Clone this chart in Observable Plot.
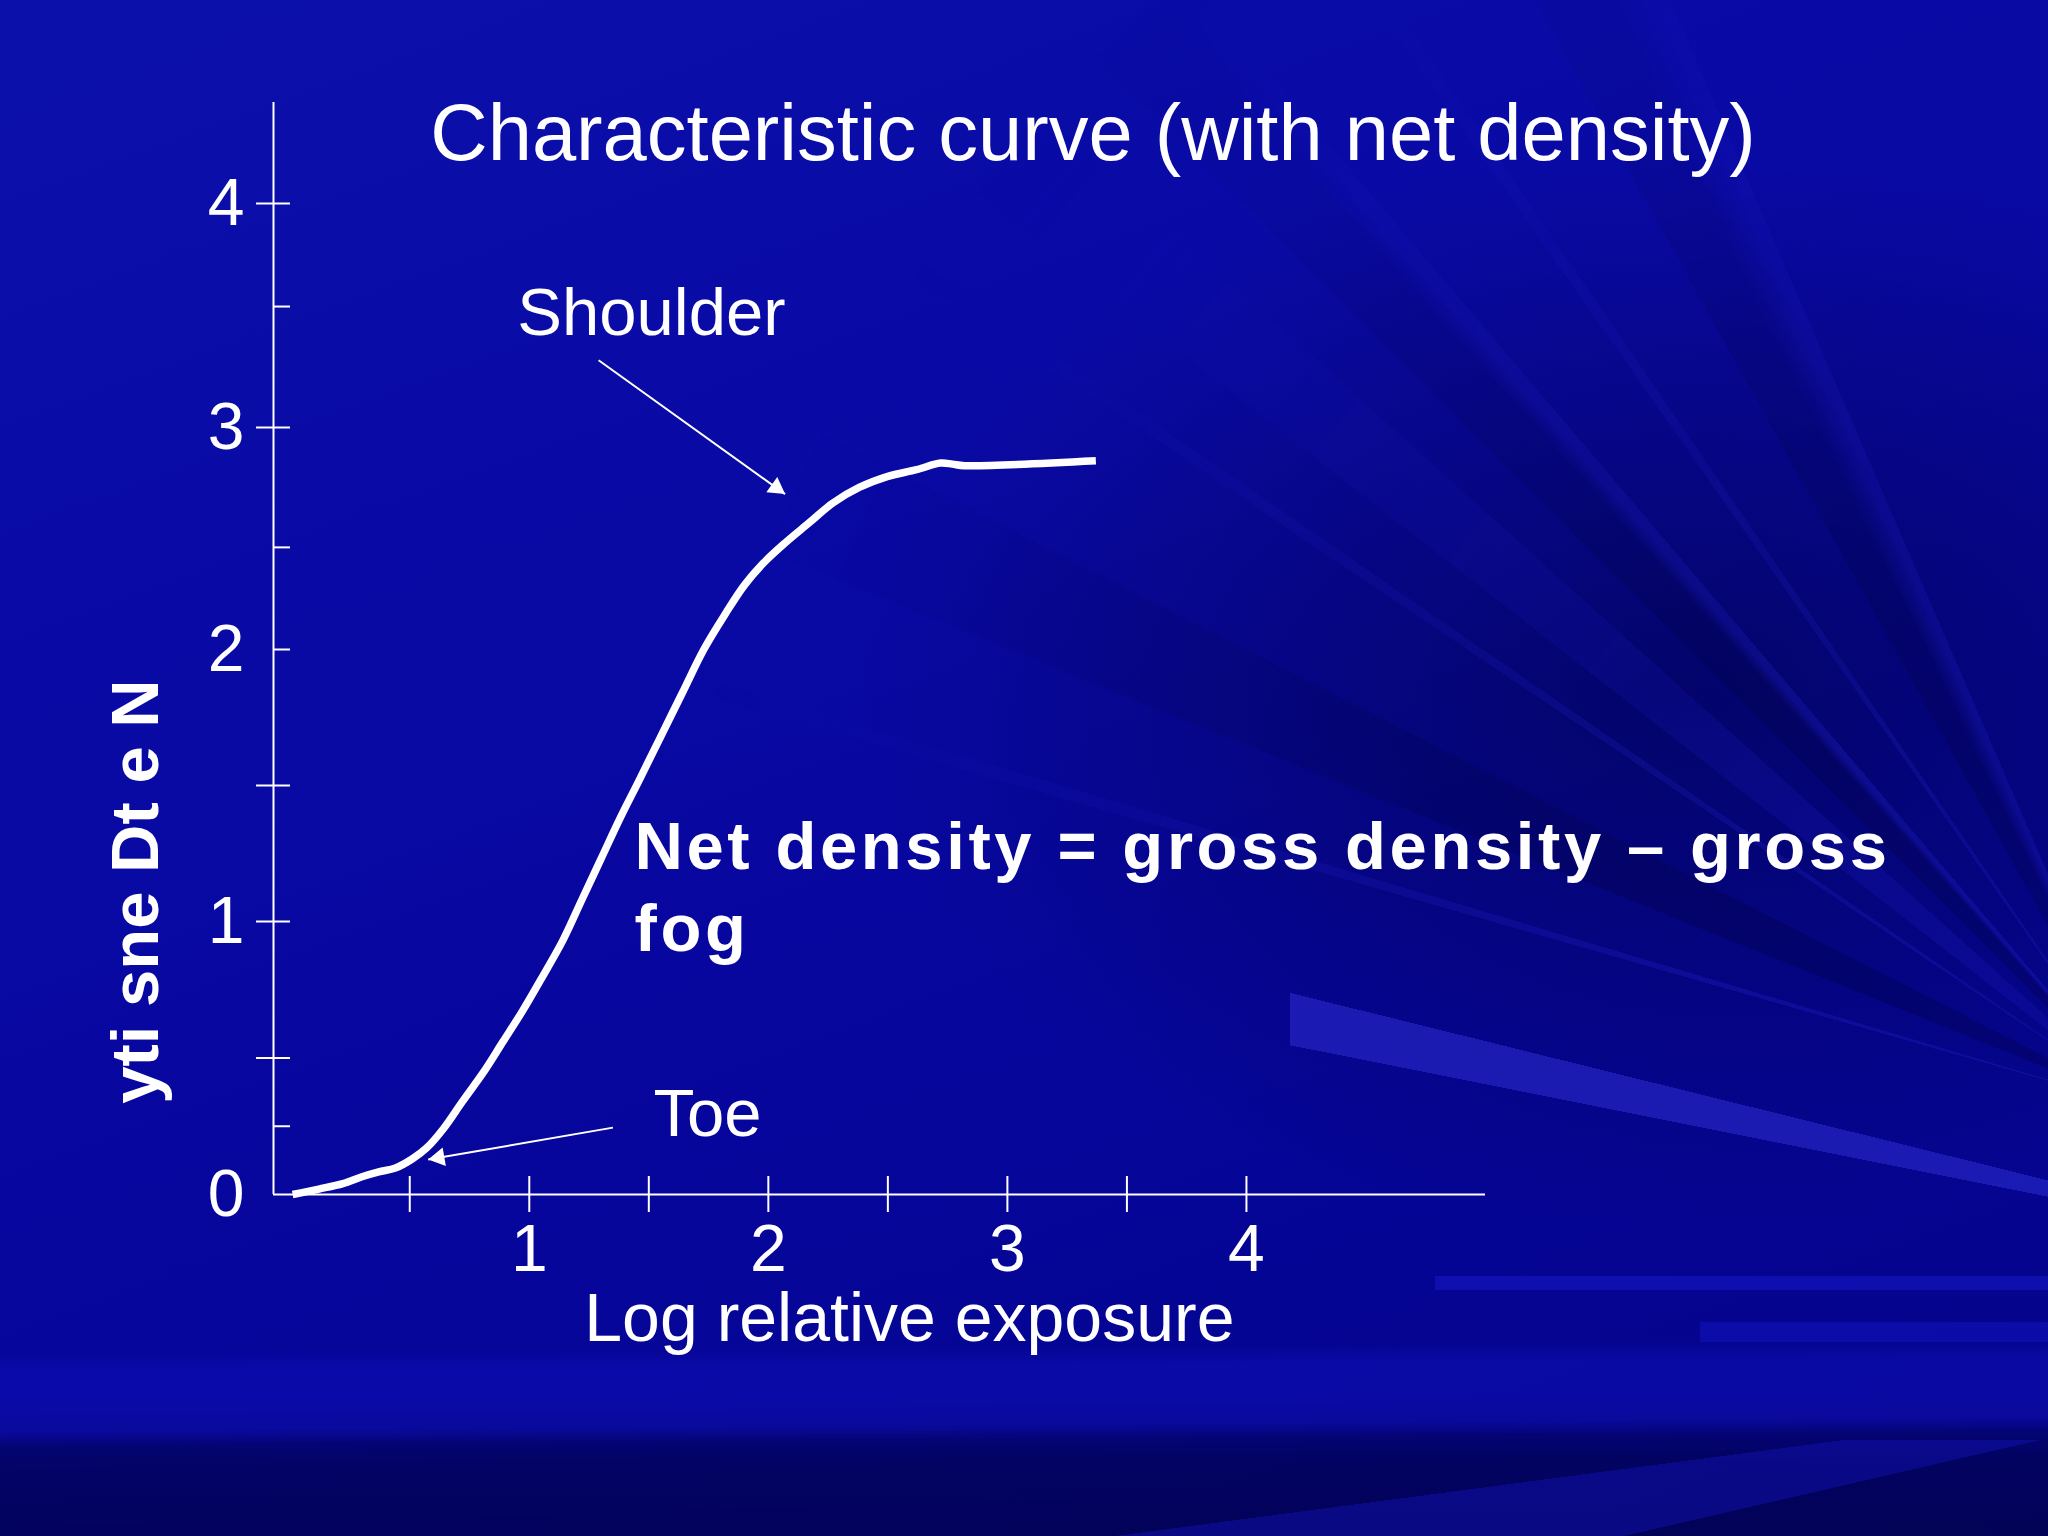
<!DOCTYPE html>
<html>
<head>
<meta charset="utf-8">
<script src="https://cdn.jsdelivr.net/npm/d3@7"></script>
<script src="https://cdn.jsdelivr.net/npm/@observablehq/plot@0.6"></script>
<style>
  html, body { margin: 0; padding: 0; }
  body { width: 2048px; height: 1536px; overflow: hidden; background: #0606a0; }
  #wrap {
    position: relative; width: 2048px; height: 1536px; overflow: hidden;
    background:
      conic-gradient(from 0deg at 1100px 290px, transparent 0deg 281.3deg, rgba(45,45,210,.55) 281.3deg 283.9deg, transparent 283.9deg 360deg) 1290px 975px / 758px 320px no-repeat,
      linear-gradient(rgba(25,25,205,.5), rgba(25,25,205,.5)) 1435px 1276px / 613px 14px no-repeat,
      linear-gradient(rgba(20,20,200,.45), rgba(20,20,200,.45)) 1700px 1322px / 348px 20px no-repeat,
      conic-gradient(from 0deg at 2300px -60px, transparent 0deg 257deg, rgba(20,20,195,.4) 257deg 262.5deg, transparent 262.5deg 360deg) 0px 1440px / 2048px 96px no-repeat,
      linear-gradient(179.6deg, transparent 87.3%, rgba(15,15,185,.5) 88.5%, rgba(15,15,185,.5) 92.3%, transparent 93.3%),
      linear-gradient(to bottom, transparent 0%, transparent 91%, rgba(0,0,45,.45) 95%, rgba(0,0,45,.55) 100%),
      radial-gradient(ellipse 40% 35% at 82% 45%, rgba(0,0,45,.45), transparent 100%),
      linear-gradient(160deg, #0c10aa 0%, #0909a4 38%, #06069c 62%, #040488 100%);
  }
  #rays {
    position: absolute; left: 0; top: 0; width: 2048px; height: 1536px;
    background: conic-gradient(from 0deg at 2150px 1110px,
      transparent 0deg 286deg,
      rgba(40,40,220,.25) 286deg 286.6deg, transparent 286.6deg 292deg,
      rgba(0,0,40,.22) 292deg 297deg, transparent 297deg 304deg,
      rgba(40,40,220,.22) 304deg 304.6deg, transparent 304.6deg 308deg,
      rgba(30,30,210,.2) 308deg 312deg, transparent 312deg 315deg,
      rgba(0,0,40,.2) 315deg 318deg,
      rgba(40,40,220,.25) 319deg 319.6deg, transparent 319.6deg 325deg,
      rgba(40,40,220,.2) 325deg 325.6deg, transparent 325.6deg 331deg,
      rgba(0,0,40,.18) 331deg 334deg,
      rgba(40,40,220,.2) 336deg 336.6deg, transparent 336.6deg 360deg);
    -webkit-mask-image: radial-gradient(circle 1500px at 2150px 1110px, #000 30%, rgba(0,0,0,.5) 65%, transparent 100%);
    mask-image: radial-gradient(circle 1500px at 2150px 1110px, #000 30%, rgba(0,0,0,.5) 65%, transparent 100%);
  }
  #chart { position: absolute; left: 0; top: 0; }
  #title {
    position: absolute; left: 393px; width: 1400px; top: 133px;
    transform: translateY(-50%); text-align: center; color: #ffffff;
    font: 79.5px/1 "Liberation Sans", Arial, sans-serif; white-space: nowrap;
  }
</style>
</head>
<body>
<div id="wrap">
  <div id="rays"></div>
  <div id="chart"></div>
  <div id="title">Characteristic curve (with net density)</div>
</div>
<script>
// ---- data ----
const exposure   = [0.01, 0.12, 0.22, 0.30, 0.37, 0.44, 0.51, 0.57, 0.64, 0.72, 0.81, 0.89, 0.97, 1.05, 1.14, 1.22, 1.30, 1.38, 1.46, 1.55, 1.64, 1.73, 1.82, 1.90, 1.98, 2.07, 2.17, 2.27, 2.38, 2.50, 2.62, 2.72, 2.77, 2.82, 3.37];
const netDensity = [0.00, 0.02, 0.04, 0.065, 0.083, 0.097, 0.13, 0.17, 0.24, 0.34, 0.45, 0.56, 0.67, 0.79, 0.93, 1.08, 1.23, 1.38, 1.52, 1.68, 1.84, 2.00, 2.16, 2.29, 2.39, 2.48, 2.57, 2.66, 2.73, 2.78, 2.81, 2.84, 2.835, 2.828, 2.85];

const xTickLabels = [1, 2, 3, 4];
const xTickMarks  = [0.5, 1, 1.5, 2, 2.5, 3, 3.5, 4];
const yTickLabels = [0, 1, 2, 3, 4];
const yTicksCross = [4, 3, 1.5, 1, 0.5];
const yTicksRight = [3.54, 2.46, 2, 0.25];

// the hand-drawn density axis is unevenly spaced: values are warped piecewise
const yKnots     = [0, 1, 2, 3, 4, 4.45];
const yKnotSpans = [0, 273, 545, 767, 991, 1092];
const warp = d3.scaleLinear().domain(yKnots).range(yKnotSpans);

const xDomain = [-0.07, 5.0];
const xRange  = [273, 1485];
const yDomain = [0, 1092];
const yRange  = [1194, 102];

const labels = [
  {x: 0.95, y: 3.51, text: "Shoulder"},
  {x: 1.52, y: 0.293, text: "Toe"}
];
const note = [{x: 1.44, y: 1.14, text: "Net density = gross density \u2013 gross\nfog"}];
const xTitle = [{x: 2.59, y: -0.458, text: "Log relative exposure"}];
const yTitle = [{x: -0.644, y: 1.11, text: "yti sne Dt e N"}];
const arrows = [
  {x1: 1.29, y1: 3.30, x2: 2.07, y2: 2.70},
  {x1: 1.35, y1: 0.245, x2: 0.577, y2: 0.128}
];

const curve = exposure.map((x, i) => ({x, y: netDensity[i]}));
const tickHalfX = 0.071;  // ~17px in x units
const tickHalfY = 0.066;  // ~18px in y units
const x0 = xDomain[0];

const sx = d3.scaleLinear().domain(xDomain).range(xRange);
const syLin = d3.scaleLinear().domain(yDomain).range(yRange);
const sy = v => syLin(warp(v));
const headR = 7;
const headMarks = arrows.map(a => {
  const ang = Math.atan2(sy(a.y2) - sy(a.y1), sx(a.x2) - sx(a.x1));
  const off = 1.555 * headR;
  return Plot.dot([a], {
    x: "x2", y: "y2", symbol: "triangle", r: headR, fill: "white", stroke: "none",
    rotate: ang * 180 / Math.PI + 90,
    dx: -Math.cos(ang) * off, dy: -Math.sin(ang) * off
  });
});

const font = "'Liberation Sans', Arial, Helvetica, sans-serif";

const chart = Plot.plot({
  width: 2048,
  height: 1536,
  marginLeft: 273,
  marginRight: 563,
  marginTop: 102,
  marginBottom: 342,
  style: {background: "transparent", color: "white", fontFamily: font, overflow: "visible"},
  x: {domain: xDomain, range: xRange},
  y: {domain: yDomain, range: yRange, transform: warp, axis: null},
  marks: [
    // axis lines
    Plot.ruleX([x0], {stroke: "white", strokeWidth: 2}),
    Plot.ruleY([0], {stroke: "white", strokeWidth: 2}),
    // tick marks
    Plot.ruleY(yTicksCross, {y: d => d, x1: x0 - tickHalfX, x2: x0 + tickHalfX, stroke: "white", strokeWidth: 2}),
    Plot.ruleY(yTicksRight, {y: d => d, x1: x0, x2: x0 + tickHalfX, stroke: "white", strokeWidth: 2}),
    Plot.ruleX(xTickMarks, {x: d => d, y1: -tickHalfY, y2: tickHalfY, stroke: "white", strokeWidth: 2}),
    // tick labels
    Plot.text(yTickLabels, {x: x0, y: d => d, text: d => String(d), textAnchor: "end", dx: -29, fontSize: 66, fill: "white"}),
    Plot.axisX({ticks: xTickLabels, tickSize: 0, tickPadding: 30, fontSize: 66, label: null, color: "white", tickFormat: d => String(d)}),
    // curve
    Plot.line(curve, {x: "x", y: "y", stroke: "white", strokeWidth: 7.5, curve: "catmull-rom", strokeLinecap: "butt"}),
    // annotation arrows
    Plot.link(arrows, {x1: "x1", y1: "y1", x2: "x2", y2: "y2", stroke: "white", strokeWidth: 2}),
    ...headMarks,
    // texts
    Plot.text(labels, {x: "x", y: "y", text: "text", textAnchor: "start", fontSize: 67, fill: "white"}),
    Plot.text(note, {x: "x", y: "y", text: "text", textAnchor: "start", fontSize: 67, fontWeight: "bold", lineHeight: 1.23, fill: "white"}),
    Plot.text(xTitle, {x: "x", y: "y", text: "text", fontSize: 68, fill: "white"}),
    Plot.text(yTitle, {x: "x", y: "y", text: "text", fontSize: 67, fontWeight: "bold", rotate: -90, fill: "white"})
  ]
});
d3.select(chart).selectAll("text")
  .filter(function() { return this.textContent.startsWith("Net density"); })
  .style("letter-spacing", "3.6px");
document.getElementById("chart").appendChild(chart);
</script>
</body>
</html>
